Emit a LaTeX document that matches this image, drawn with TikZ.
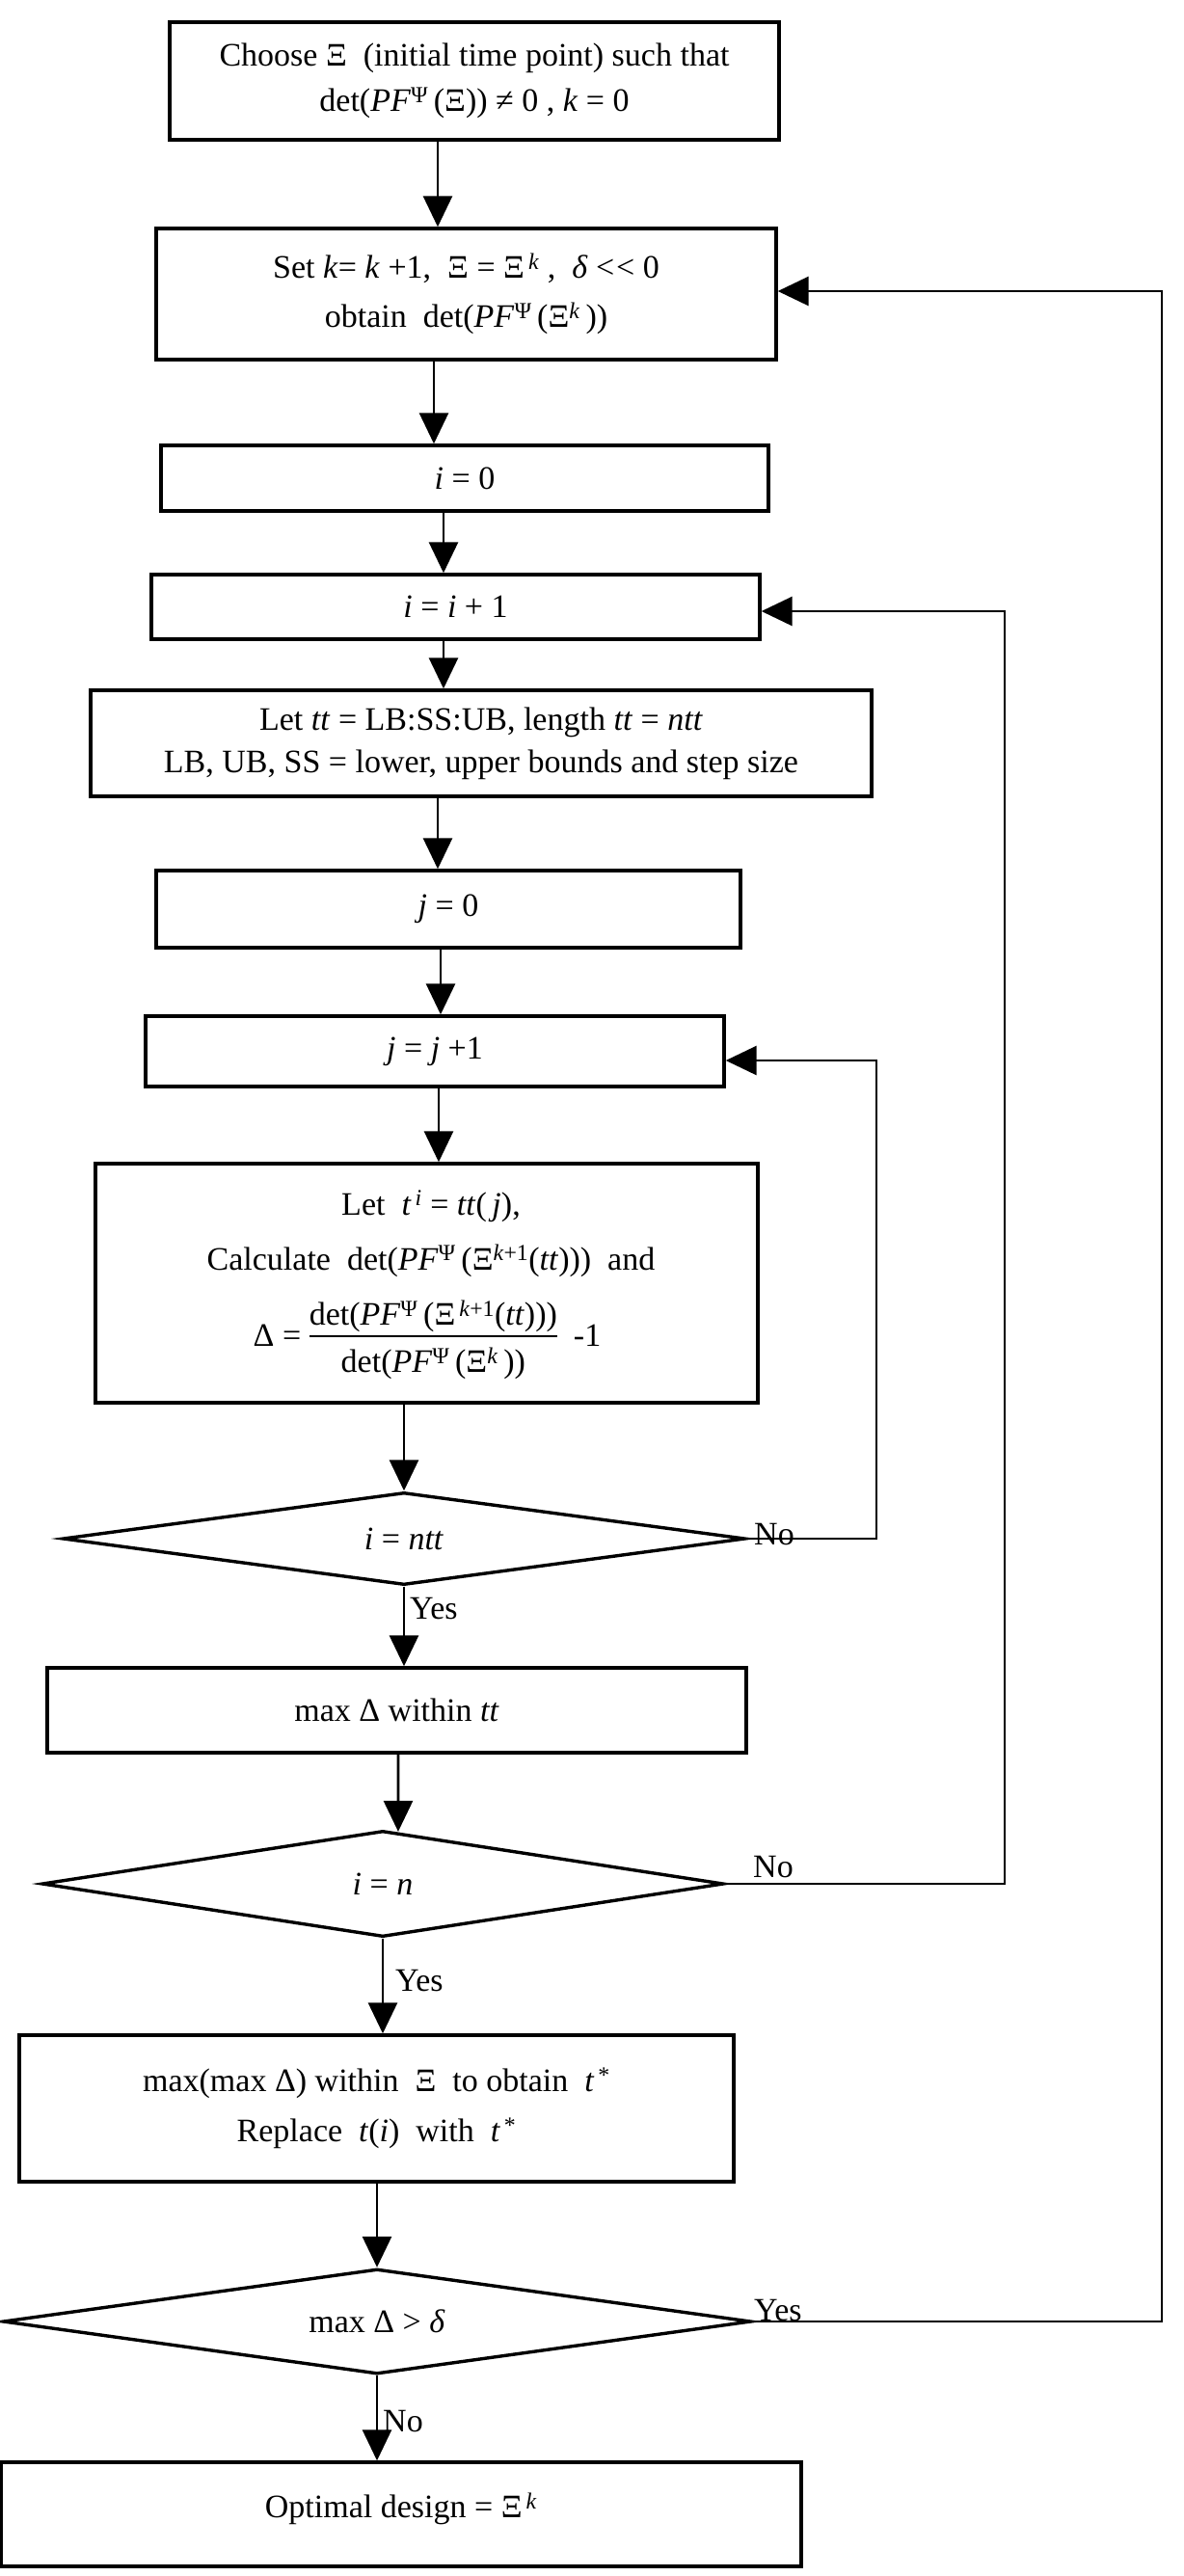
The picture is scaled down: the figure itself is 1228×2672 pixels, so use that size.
\documentclass[tikz,border=0pt]{standalone}
\usepackage{fontspec}
\setmainfont{Liberation Serif}
\usetikzlibrary{arrows.meta,shapes.geometric,calc}
\newcommand{\fs}{\fontsize{34}{45}\selectfont}
\newcommand{\sx}[1]{\textsuperscript{#1}}
\newcommand{\myfrac}[2]{{\setlength{\tabcolsep}{0pt}\setlength{\arrayrulewidth}{2pt}\begin{tabular}{c}#1\\[-3pt]\hline\rule{0pt}{37pt}#2\end{tabular}}}
\begin{document}
\begin{tikzpicture}[x=1pt,y=-1pt,font=\fs,
  box/.style={draw,line width=3.4pt,inner sep=0pt,align=center},
  dia/.style={draw,diamond,aspect=7,line width=3.4pt,inner sep=0pt,align=center},
  txt/.style={inner sep=0pt,anchor=base},
  lbl/.style={inner sep=0pt,anchor=base west},
  arr/.style={line width=2.8pt,-{Triangle[length=32pt,width=30pt]}}]
\useasboundingbox (0,0) rectangle (1228,2672);
\fill[white] (0,0) rectangle (1228,2672);

% boxes
\node[box,minimum width=632pt,minimum height=122pt] (b1) at (492,84)
  {Choose Ξ~ (initial time point) such that\\[2pt]
   det(\textit{PF}\sx{Ψ}\,(Ξ)) ≠ 0 , \textit{k} = 0};
\node[box,minimum width=643pt,minimum height=136pt] (b2) at (483.5,305)
  {Set \textit{k}= \textit{k} +1, ~Ξ = Ξ\sx{\,\textit{k}} , ~\textit{δ} <\kern0.05em< 0\\[6pt]
   obtain~ det(\textit{PF}\sx{Ψ}\,(Ξ\sx{\textit{k}}\,))};
\node[box,minimum width=630pt,minimum height=68pt] (b3) at (482,496) {\textit{i} = 0};
\node[box,minimum width=631pt,minimum height=67pt] (b4) at (472.5,629.5) {\textit{i} = \textit{i} + 1};
\node[box,minimum width=810pt,minimum height=110pt] (b5) at (499,771)
  {Let \textit{tt} = LB:SS:UB, length \textit{tt} = \textit{ntt}\\[-1pt]
   LB, UB, SS = lower, upper bounds and step size};
\node[box,minimum width=606pt,minimum height=80pt] (b6) at (465,943) {\textit{j} = 0};
\node[box,minimum width=600pt,minimum height=73pt] (b7) at (451,1090.5) {\textit{j} = \textit{j} +1};
\node[box,minimum width=687pt,minimum height=248pt] (b8) at (442.5,1331) {};
\node[txt] (b8a) at (447,1260) {Let~ \textit{t}\sx{\,\textit{i}} = \textit{tt}(\,\textit{j}),};
\node[txt] (b8b) at (447,1317) {Calculate~ det(\textit{PF}\sx{Ψ}\,(Ξ\sx{\textit{k}+1}(\textit{tt})))~ and};
\node[txt] (b8c) at (443,1396) {Δ = \myfrac{det(\textit{PF}\sx{Ψ}\,(Ξ\sx{\,\textit{k}+1}(\textit{tt})))}{det(\textit{PF}\sx{Ψ}\,(Ξ\sx{\textit{k}}\,))}~ -1};

\node[dia,minimum width=708pt,minimum height=96pt] (d1) at (419,1596) {\textit{i} = \textit{ntt}};
\node[box,minimum width=725pt,minimum height=88pt] (b9) at (411.5,1774) {max Δ within \textit{tt}};
\node[dia,minimum width=707pt,minimum height=110pt] (d2) at (397,1954) {\textit{i} = \textit{n}};
\node[box,minimum width=741pt,minimum height=152pt] (b10) at (390.5,2187)
  {max(max Δ) within~ Ξ~ to obtain~ \textit{t}\sx{\,*}\\[7pt]
   Replace~ \textit{t}(\textit{i})~ with~ \textit{t}\sx{\,*}};
\node[dia,minimum width=776pt,minimum height=109pt] (d3) at (391,2408) {max Δ > \textit{δ}};
\node[box,minimum width=830pt,minimum height=108pt] (b11) at (416,2608)
  {Optimal design = Ξ\sx{\,\textit{k}}\rule[-18pt]{0pt}{18pt}};

% labels
\node[lbl] (l1) at (782,1602) {No};
\node[lbl] (l2) at (425,1679) {Yes};
\node[lbl] (l3) at (781,1947) {No};
\node[lbl] (l4) at (410,2065) {Yes};
\node[lbl] (l5) at (782,2407) {Yes};
\node[lbl] (l6) at (397,2522) {No};

% vertical connectors
\coordinate (x1) at (454,0);
\coordinate (x2) at (450,0);
\coordinate (x3) at (460,0);
\coordinate (x4) at (454,0);
\coordinate (x5) at (457,0);
\coordinate (x6) at (455,0);
\coordinate (x7) at (413,0);
\draw[arr] (b1.south -| x1) -- (b2.north -| x1);
\draw[arr] (b2.south -| x2) -- (b3.north -| x2);
\draw[arr] (b3.south -| x3) -- (b4.north -| x3);
\draw[arr] (b4.south -| x3) -- (b5.north -| x3);
\draw[arr] (b5.south -| x4) -- (b6.north -| x4);
\draw[arr] (b6.south -| x5) -- (b7.north -| x5);
\draw[arr] (b7.south -| x6) -- (b8.north -| x6);
\draw[arr] (b8.south -| d1.north) -- (d1.north);
\draw[arr] (d1.south) -- (b9.north -| d1.south);
\draw[arr] (b9.south -| x7) -- ($(d2.north)!0.045!(d2.east)$);
\draw[arr] (d2.south) -- (b10.north -| d2.south);
\draw[arr] (b10.south -| d3.north) -- (d3.north);
\draw[arr] (d3.south) -- (b11.north -| d3.south);

% return loops
\coordinate (r1) at (909,1100);
\coordinate (r2) at (1042,634);
\coordinate (r3) at (1205,302);
\draw[arr] (d1.east) -- (d1.east -| r1) -- (r1) -- (r1 -| b7.east);
\draw[arr] (d2.east) -- (d2.east -| r2) -- (r2) -- (r2 -| b4.east);
\draw[arr] (d3.east) -- (d3.east -| r3) -- (r3) -- (r3 -| b2.east);
\end{tikzpicture}
\end{document}
